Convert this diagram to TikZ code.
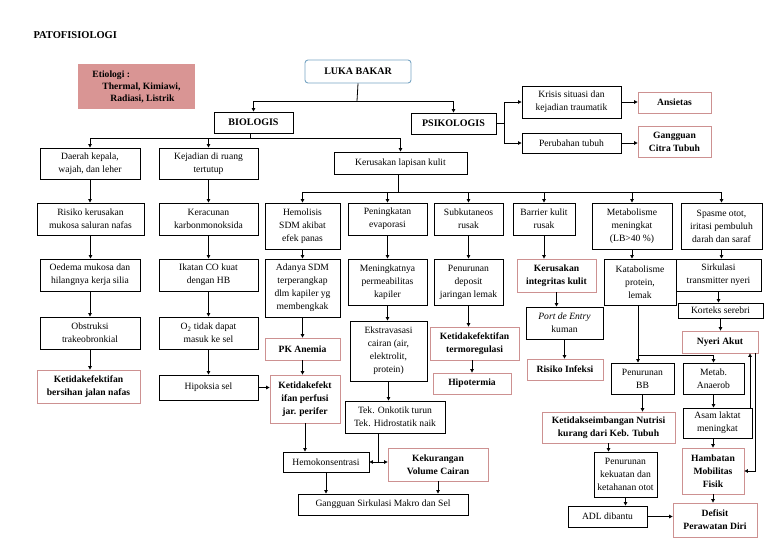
\documentclass[tikz,border=0pt]{standalone}
\usepackage{fontspec}
\setmainfont{Liberation Serif}
\usetikzlibrary{arrows.meta}
\definecolor{pinkb}{RGB}{205,145,145}
\definecolor{etfill}{RGB}{217,149,148}
\definecolor{lukab}{RGB}{120,165,195}
\newcommand\B[7][box]{\node[#1,minimum width={(#4-#2)*1pt},minimum height={(#5-#3)*1pt}] (#7) at ({(#2+#4)/2},{-(#3+#5)/2}) {#6};}
\begin{document}
\begin{tikzpicture}[x=1pt,y=1pt,
 box/.style={draw,line width=0.9pt,inner sep=1pt,align=center,font=\fontsize{9.6}{13}\selectfont},
 pbox/.style={draw=pinkb,line width=0.8pt,inner sep=1pt,align=center,font=\fontsize{9.6}{13}\selectfont\bfseries},
 hbox/.style={box,font=\fontsize{10}{13}\selectfont\bfseries},
 arr/.style={line width=0.8pt,-{Triangle[length=3.5pt,width=3.5pt]}},
 ln/.style={line width=0.8pt}]
\useasboundingbox (0,0) rectangle (768,-543);
\node[anchor=west,font=\fontsize{10.5}{12}\selectfont\bfseries] (title) at (30,-35) {PATOFISIOLOGI};
\node[fill=etfill,minimum width=117pt,minimum height=45pt,align=left,font=\fontsize{9.6}{12}\selectfont\bfseries] (etio) at (136.5,-86.5) {Etiologi :\\\hspace{10pt}Thermal, Kimiawi,\\\hspace{18pt}Radiasi, Listrik};
\B[hbox,draw=lukab,rounded corners=3pt]{305}{60}{411}{83}{LUKA BAKAR}{luka}
\B[hbox]{214}{112}{293}{133}{BIOLOGIS}{bio}
\B[hbox]{411}{113}{496}{134}{PSIKOLOGIS}{psi}
\B{522}{86}{621}{118}{Krisis situasi dan\\kejadian traumatik}{kris}
\B{522}{133}{621}{153}{Perubahan tubuh}{perub}
\B[pbox]{638}{92}{711}{113}{Ansietas}{ans}
\B[pbox]{638}{126}{711}{157}{Gangguan\\Citra Tubuh}{citra}
\B{40}{148}{140}{179}{Daerah kepala,\\wajah, dan leher}{daerah}
\B{159}{148}{258}{179}{Kejadian di ruang\\tertutup}{kejad}
\B{334}{152}{467}{174}{Kerusakan lapisan kulit}{kerus}
\B{37}{203}{144}{235}{Risiko kerusakan\\mukosa saluran nafas}{risk}
\B{159}{203}{258}{235}{Keracunan\\karbonmonoksida}{kerac}
\B{265}{203}{340}{249}{Hemolisis\\SDM akibat\\efek panas}{hemol}
\B{348}{203}{427}{235}{Peningkatan\\evaporasi}{evap}
\B{434}{203}{503}{235}{Subkutaneos\\rusak}{subk}
\B{513}{203}{575}{235}{Barrier kulit\\rusak}{barr}
\B{592}{203}{672}{249}{Metabolisme\\meningkat\\(LB>40 \%)}{meta}
\B{681}{203}{762}{249}{Spasme otot,\\iritasi pembuluh\\darah dan saraf}{spas}
\B{40}{259}{140}{291}{Oedema mukosa dan\\hilangnya kerja silia}{oed}
\B{159}{259}{258}{291}{Ikatan CO kuat\\dengan HB}{ikat}
\B{265}{259}{340}{317}{Adanya SDM\\terperangkap\\dlm kapiler yg\\membengkak}{adan}
\B{348}{259}{427}{305}{Meningkatnya\\permeabilitas\\kapiler}{mening}
\B{434}{259}{503}{305}{Penurunan\\deposit\\jaringan lemak}{pdep}
\B[pbox]{517}{259}{596}{292}{Kerusakan\\integritas kulit}{kint}
\B{604}{259}{676}{305}{Katabolisme\\protein,\\lemak}{katab}
\B{676}{259}{761}{291}{Sirkulasi\\transmitter nyeri}{sirk}
\B{678}{303}{763}{318}{Korteks serebri}{kort}
\B[pbox]{682}{331}{758}{353}{Nyeri Akut}{nyeri}
\B{40}{317}{140}{349}{Obstruksi\\trakeobronkial}{obst}
\B{159}{317}{258}{349}{O\textsubscript{2} tidak dapat\\masuk ke sel}{otwo}
\B[pbox]{265}{338}{340}{360}{PK Anemia}{pka}
\B{350}{321}{427}{381}{Ekstravasasi\\cairan (air,\\elektrolit,\\protein)}{ekst}
\B[pbox]{430}{327}{519}{360}{Ketidakefektifan\\termoregulasi}{termo}
\B[pbox]{433}{373}{511}{394}{Hipotermia}{hipot}
\B{526}{307}{603}{339}{\textit{Port de Entry}\\kuman}{port}
\B[pbox]{527}{359}{603}{380}{Risiko Infeksi}{rinf}
\B{611}{363}{674}{394}{Penurunan\\BB}{penbb}
\B{683}{363}{744}{394}{Metab.\\Anaerob}{metab}
\B{683}{408}{752}{438}{Asam laktat\\meningkat}{asam}
\B[pbox]{542}{412}{675}{443}{Ketidakseimbangan Nutrisi\\kurang dari Keb. Tubuh}{nutr}
\B{594}{452}{657}{497}{Penurunan\\kekuatan dan\\ketahanan otot}{pkek}
\B[pbox]{682}{448}{744}{494}{Hambatan\\Mobilitas\\Fisik}{hamb}
\B{568}{506}{647}{527}{ADL dibantu}{adl}
\B[pbox]{673}{503}{757}{537}{Defisit\\Perawatan Diri}{defi}
\B[pbox]{37}{370}{140}{403}{Ketidakefektifan\\bersihan jalan nafas}{kbjn}
\B{159}{375}{258}{400}{Hipoksia sel}{hipo}
\B[pbox]{270}{375}{340}{423}{Ketidakefekt\\ifan perfusi\\jar. perifer}{perf}
\B{345}{401}{445}{433}{Tek. Onkotik turun\\Tek. Hidrostatik naik}{tek}
\B{283}{452}{369}{472}{Hemokonsentrasi}{hemo}
\B[pbox]{388}{448}{488}{481}{Kekurangan\\Volume Cairan}{kek}
\B{298}{494}{468}{515}{Gangguan Sirkulasi Makro dan Sel}{gang}
% top connectors
\coordinate (j1) at (357,-101);
\draw[ln] (luka.south) -- (j1);
\draw[arr] (j1) -| (bio.north);
\draw[arr] (j1) -| (psi.north);
\coordinate (j3) at (504,-123.5);
\draw[ln] (psi.east) -- (j3);
\draw[arr] (j3) |- (kris.west);
\draw[arr] (j3) |- (perub.west);
\draw[arr] (kris.east) -- (kris.east -| ans.west);
\draw[arr] (perub.east) -- (perub.east -| citra.west);
\coordinate (j2) at (250,-138);
\draw[ln] (bio.south -| j2) -- (j2);
\draw[arr] (j2) -| (daerah.north);
\draw[arr] (j2) -| (kejad.north);
\draw[arr] (j2) -| (kerus.north);
\coordinate (j4) at (398,-192);
\draw[ln] (kerus.south -| j4) -- (j4);
\foreach \n in {hemol,evap,subk,barr,meta,spas} \draw[arr] (j4) -| (\n.north);
\foreach \a/\b in {daerah/risk,risk/oed,oed/obst,obst/kbjn,kejad/kerac,kerac/ikat,ikat/otwo,otwo/hipo,hemol/adan,adan/pka,pka/perf,evap/mening,mening/ekst,ekst/tek,subk/pdep,pdep/termo,barr/kint,kint/port,port/rinf,meta/katab,spas/sirk,sirk/kort,kort/nyeri,penbb/nutr,nutr/pkek,metab/asam,pkek/adl,hamb/defi,perf/hemo,hemo/gang,kek/gang}
  \draw[arr] (\a.south) -- (\a.south |- \b.north);
\draw[arr] (termo.south -| hipot.north) -- (hipot.north);
\draw[arr] (asam.south -| hamb.north) -- (hamb.north);
\draw[arr] (hipo.east) -- (hipo.east -| perf.west);
\coordinate (j6) at (378,-462);
\draw[ln] (tek.south -| j6) -- (j6);
\draw[arr] (j6) -- (j6 -| hemo.east);
\draw[arr] (j6) -- (j6 -| kek.west);
\coordinate (j5) at (638,-355);
\draw[ln] (katab.south -| j5) -- (j5);
\draw[arr] (j5) -- (j5 |- penbb.north);
\draw[arr] (j5) -| (metab.north);
\coordinate (j7) at (750,-408);
\draw[arr] (j7) -- (j7 |- nyeri.south);
\coordinate (j8) at (755,-353);
\draw[arr] (j8) |- (hamb.east);
\draw[arr] (adl.east) -- (adl.east -| defi.west);
\end{tikzpicture}
\end{document}
